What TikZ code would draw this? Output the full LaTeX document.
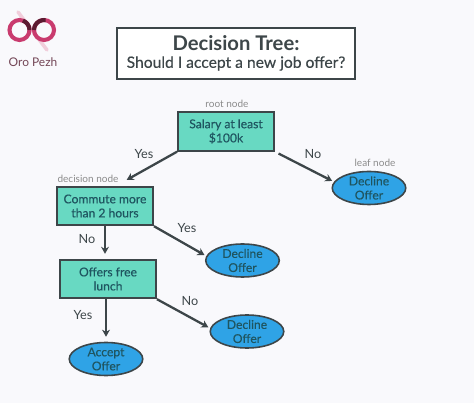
\documentclass[tikz,border=0pt]{standalone}
\usepackage{fontspec}
\setmainfont{Lato}
\usetikzlibrary{shapes.geometric, arrows.meta}
\definecolor{pagebg}{HTML}{F9F9FC}
\definecolor{inkgray}{HTML}{3D4649}
\definecolor{tealfill}{HTML}{68D9C2}
\definecolor{bluefill}{HTML}{2FA3E6}
\definecolor{nodetext}{HTML}{1F5560}
\definecolor{logopink}{HTML}{C93B6E}
\newcommand{\semibold}{\addfontfeature{FakeBold=0.35}}
\tikzset{
	testbox/.style={draw=inkgray, line width=1.1pt, fill=tealfill, text=nodetext, minimum width=1.92cm, minimum height=0.77cm, align=center, inner sep=0pt, font=\fontsize{6.9}{8}\selectfont\semibold},
	leafbox/.style={draw=inkgray, line width=0.9pt, fill=bluefill, text=nodetext, ellipse, minimum width=1.47cm, minimum height=0.66cm, align=center, inner sep=0pt, font=\fontsize{6.9}{8}\selectfont\semibold},
	link/.style={draw=inkgray, line width=1.3pt, -{Stealth[length=4pt, width=4.5pt]}},
	edgetext/.style={text=inkgray, font=\fontsize{7.2}{8}\selectfont, inner sep=0pt},
	roletext/.style={text=black!45, font=\fontsize{5.7}{6}\selectfont, inner sep=0pt}
}
\begin{document}
\begin{tikzpicture}
	% --- page ---
	\fill[pagebg] (0,0) rectangle (9.48,8.06);
	\useasboundingbox (0,0) rectangle (9.48,8.06);

	% --- logo ---
	\draw[logopink!25, line width=2pt, line cap=round] (0.36,7.82) -- (0.94,7.06);
	\draw[logopink, line width=2.3pt] (0.39,7.46) circle (0.2);
	\draw[logopink, line width=2.3pt] (0.88,7.46) circle (0.2);
	\draw[logopink!45!black, line width=2.3pt] (0.59,7.46) arc (0:70:0.2);
	\draw[logopink!45!black, line width=2.3pt] (0.68,7.46) arc (180:80:0.2);
	\node[text=logopink!40!black!80, font=\fontsize{6.8}{8}\selectfont, inner sep=0pt] (brand) at (0.66,6.82) {Oro Pezh};

	% --- title ---
	\node[draw=inkgray, line width=1.2pt, fill=white, minimum width=4.76cm, minimum height=1.02cm, inner sep=0pt] (titlebox) at (4.72,6.99) {};
	\node[text=inkgray, font=\fontsize{11.5}{14}\selectfont\bfseries, inner sep=0pt] (headline) at (4.72,7.2) {Decision Tree:};
	\node[text=inkgray, font=\fontsize{8.9}{11}\selectfont\semibold, inner sep=0pt] (question) at (4.72,6.79) {Should I accept a new job offer?};

	% --- tests ---
	\node[testbox] (salary) at (4.52,5.43) {Salary at least\\\$100k};
	\node[testbox] (commute) at (2.10,3.94) {Commute more\\than 2 hours};
	\node[testbox] (lunch) at (2.16,2.48) {Offers free\\lunch};

	% --- outcomes ---
	\node[leafbox] (declinea) at (7.38,4.30) {Decline\\Offer};
	\node[leafbox] (declineb) at (4.85,2.85) {Decline\\Offer};
	\node[leafbox] (declinec) at (4.94,1.43) {Decline\\Offer};
	\node[leafbox] (accept) at (2.12,0.88) {Accept\\Offer};

	% --- connectors ---
	\draw[link, shorten >=0.24cm] (salary.south west) -- (commute.61);
	\draw[link, shorten <=0.08cm, shorten >=0.04cm] (salary.south east) -- (declinea.170);
	\draw[link, shorten >=0.04cm] (commute.south east) -- (declineb.173);
	\draw[link, shorten >=0.1cm] (commute.south) -- (commute.south |- lunch.north);
	\draw[link, shorten >=0.1cm] (accept.north |- lunch.south) -- (accept.north);
	\draw[link, shorten >=0.04cm] (lunch.south east) -- (declinec.175);

	% --- labels ---
	\node[edgetext] (yesa) at (2.88,4.98) {Yes};
	\node[edgetext] (noa) at (6.26,4.98) {No};
	\node[edgetext] (yesb) at (3.74,3.50) {Yes};
	\node[edgetext] (nob) at (1.74,3.28) {No};
	\node[edgetext] (noc) at (3.80,2.04) {No};
	\node[edgetext] (yesc) at (1.66,1.76) {Yes};
	\node[roletext] (rootrole) at (4.54,5.98) {root node};
	\node[roletext] (decisionrole) at (1.76,4.48) {decision node};
	\node[roletext] (leafrole) at (7.50,4.80) {leaf node};
\end{tikzpicture}
\end{document}
